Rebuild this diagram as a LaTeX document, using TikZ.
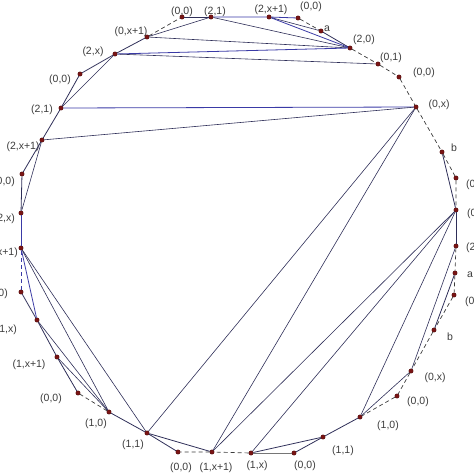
\documentclass[tikz,border=0pt]{standalone}
\usepackage{fontspec}
\setmainfont{Liberation Sans}
\definecolor{xanhdam}{HTML}{2E2E58}
\definecolor{xanhlam}{HTML}{3A3AA6}
\definecolor{xam}{HTML}{3C3C3C}
\definecolor{dodam}{HTML}{7A1414}
\begin{document}
\begin{tikzpicture}[x=1pt,y=-1pt,
	diem/.style={circle,fill=dodam,draw=dodam!70!black,inner sep=0pt,minimum size=4.4pt},
	nhan/.style={text=xam,font=\fontsize{10.5}{12}\selectfont,inner sep=0pt},
	canh/.style={draw=xanhdam,line width=0.8pt},
	canhxanh/.style={draw=xanhlam,line width=0.8pt},
	netdut/.style={draw=xam,line width=0.7pt,dash pattern=on 4pt off 3pt},
	cheo/.style={draw=xanhdam,line width=0.6pt}]
	\useasboundingbox (0,0) rectangle (474,474);
	% Vẽ các đỉnh của đa giác
	\node[diem] (p1) at (182,17) {};
	\node[diem] (p2) at (211,17) {};
	\node[diem] (p3) at (269,17) {};
	\node[diem] (p4) at (298,18) {};
	\node[diem] (p5) at (321,31) {};
	\node[diem] (p6) at (350,48) {};
	\node[diem] (p7) at (378,64) {};
	\node[diem] (p8) at (399,77) {};
	\node[diem] (p9) at (416,107) {};
	\node[diem] (p10) at (442,152) {};
	\node[diem] (p11) at (456,178) {};
	\node[diem] (p12) at (456,210) {};
	\node[diem] (p13) at (456,246) {};
	\node[diem] (p14) at (455,273) {};
	\node[diem] (p15) at (454,295) {};
	\node[diem] (p16) at (434,330) {};
	\node[diem] (p17) at (411,371) {};
	\node[diem] (p18) at (397,396) {};
	\node[diem] (p19) at (360,417) {};
	\node[diem] (p20) at (323,437) {};
	\node[diem] (p21) at (294,453) {};
	\node[diem] (p22) at (251,453) {};
	\node[diem] (p23) at (212,452) {};
	\node[diem] (p24) at (178,452) {};
	\node[diem] (p25) at (147,433) {};
	\node[diem] (p26) at (109,412) {};
	\node[diem] (p27) at (78,393) {};
	\node[diem] (p28) at (57,357) {};
	\node[diem] (p29) at (37,320) {};
	\node[diem] (p30) at (21,292) {};
	\node[diem] (p31) at (21,248) {};
	\node[diem] (p32) at (21,213) {};
	\node[diem] (p33) at (22,174) {};
	\node[diem] (p34) at (42,140) {};
	\node[diem] (p35) at (61,108) {};
	\node[diem] (p36) at (80,74) {};
	\node[diem] (p37) at (115,54) {};
	\node[diem] (p38) at (147,37) {};
	% Các nhãn
	\node[nhan] (n1) at (182,12) {(0,0)};
	\node[nhan] (n2) at (215,12) {(2,1)};
	\node[nhan] (n3) at (271,10) {(2,x+1)};
	\node[nhan] (n4) at (311,7) {(0,0)};
	\node[nhan] (n5) at (327,29) {a};
	\node[nhan] (n6) at (364,40) {(2,0)};
	\node[nhan] (n7) at (391,58) {(0,1)};
	\node[nhan] (n8) at (424,73) {(0,0)};
	\node[nhan] (n9) at (439,105) {(0,x)};
	\node[nhan] (n10) at (454,148) {b};
	\node[nhan,anchor=west] (n11) at (466,185) {(0,0)};
	\node[nhan,anchor=west] (n12) at (467,214) {(0,1)};
	\node[nhan,anchor=west] (n13) at (466,248) {(2,0)};
	\node[nhan,anchor=west] (n14) at (467,275) {a};
	\node[nhan,anchor=west] (n15) at (465,302) {(0,0)};
	\node[nhan] (n16) at (450,337) {b};
	\node[nhan] (n17) at (435,378) {(0,x)};
	\node[nhan] (n18) at (418,402) {(0,0)};
	\node[nhan] (n19) at (388,426) {(1,0)};
	\node[nhan] (n20) at (343,451) {(1,1)};
	\node[nhan] (n21) at (305,466) {(0,0)};
	\node[nhan] (n22) at (257,466) {(1,x)};
	\node[nhan] (n23) at (216,468) {(1,x+1)};
	\node[nhan] (n24) at (181,468) {(0,0)};
	\node[nhan] (n25) at (133,445) {(1,1)};
	\node[nhan] (n26) at (96,424) {(1,0)};
	\node[nhan] (n27) at (51,399) {(0,0)};
	\node[nhan] (n28) at (29,365) {(1,x+1)};
	\node[nhan,anchor=east] (n29) at (17,330) {(1,x)};
	\node[nhan,anchor=east] (n30) at (8,294) {(0,0)};
	\node[nhan,anchor=east] (n31) at (18,253) {(2,x+1)};
	\node[nhan,anchor=east] (n32) at (15,219) {(2,x)};
	\node[nhan,anchor=east] (n33) at (15,182) {(0,0)};
	\node[nhan] (n34) at (23,147) {(2,x+1)};
	\node[nhan] (n35) at (42,110) {(2,1)};
	\node[nhan] (n36) at (60,80) {(0,0)};
	\node[nhan] (n37) at (93,52) {(2,x)};
	\node[nhan] (n38) at (131,32) {(0,x+1)};
	% Vẽ các cạnh liền
	\draw[canh] (p1) -- (p2);
	\draw[canhxanh] (p2) -- (p3) -- (p4);
	\draw[canh] (p5) -- (p6);
	\draw[canh] (p12) -- (p13);
	\draw[canh] (p19) -- (p20) -- (p21);
	\draw[cheo,draw=xam!70] (p21) -- (p22);
	\draw[canh] (p24) -- (p25) -- (p26);
	\draw[canh] (p27) -- (p28) -- (p29) -- (p30);
	\draw[canhxanh] (p31) -- (p32);
	\draw[canh] (p32) -- (p33) -- (p34) -- (p35) -- (p36) -- (p37) -- (p38);
	% Vẽ các cạnh nét đứt
	\draw[netdut] (p38) -- (p1);
	\draw[netdut] (p4) -- (p5);
	\draw[netdut] (p6) -- (p7) -- (p8) -- (p9) -- (p10) -- (p11) -- (p12);
	\draw[netdut] (p13) -- (p14) -- (p15) -- (p16) -- (p17) -- (p18) -- (p19);
	\draw[netdut] (p22) -- (p23) -- (p24);
	\draw[netdut] (p26) -- (p27);
	\draw[netdut,draw=xanhlam] (p30) -- (p31);
	% Vẽ các đường chéo
	\draw[cheo] (p38) -- (p2);
	\draw[cheo] (p38) -- (p6);
	\draw[cheo] (p2) -- (p6);
	\draw[cheo] (p3) -- (p5);
	\draw[canhxanh] (p3) -- (p6);
	\draw[canhxanh] (p37) -- (p6);
	\draw[cheo] (p37) -- (p7);
	\draw[cheo] (p35) -- (p37);
	\draw[canhxanh] (p35) -- (p9);
	\draw[cheo] (p34) -- (p9);
	\draw[cheo] (p34) -- (p32);
	\draw[canhxanh] (p31) -- (p29);
	\draw[cheo] (p31) -- (p26);
	\draw[cheo] (p31) -- (p25);
	\draw[cheo] (p29) -- (p26);
	\draw[cheo] (p28) -- (p26);
	\draw[canh] (p25) -- (p23);
	\draw[cheo] (p25) -- (p9);
	\draw[cheo] (p23) -- (p9);
	\draw[cheo] (p23) -- (p12);
	\draw[cheo] (p22) -- (p12);
	\draw[canh] (p22) -- (p20);
	\draw[cheo] (p19) -- (p12);
	\draw[cheo] (p17) -- (p19);
	\draw[cheo] (p13) -- (p17);
	\draw[canh] (p10) -- (p12);
	\draw[canh] (p14) -- (p16);
\end{tikzpicture}
\end{document}
